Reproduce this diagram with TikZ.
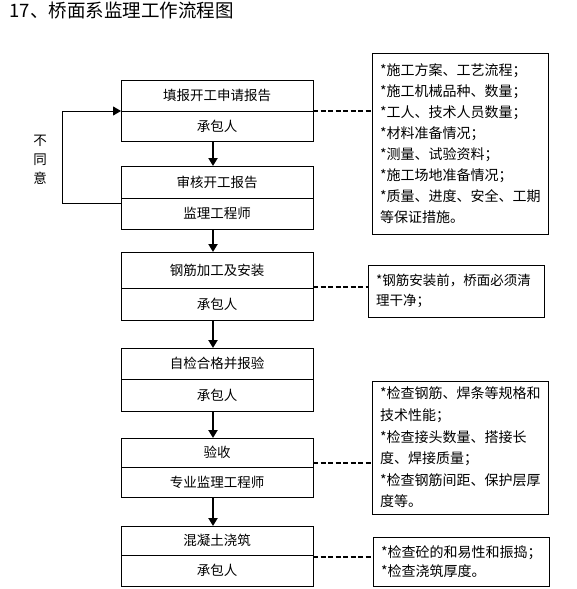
\documentclass[tikz,border=0pt]{standalone}
\usepackage{fontspec}
\setmainfont{Noto Sans CJK SC}
\usetikzlibrary{positioning, arrows.meta}
\tikzstyle{stage} = [
    rectangle, 
    minimum width=192pt, 
    minimum height=31pt,
    inner sep=0pt,
    outer sep=0pt,
    text centered, 
    draw=black, 
    line width=0.8pt,
    font=\fontsize{13.5pt}{16pt}\selectfont
]
\tikzstyle{note} = [
    rectangle, 
    anchor=north west,
    text width=160pt,
    inner xsep=8pt,
    inner ysep=3pt,
    outer sep=0pt,
    align=left, 
    draw=black, 
    line width=0.8pt,
    font=\fontsize{14pt}{21pt}\selectfont
]
\tikzstyle{arrow} = [
    line width=2pt, 
    -{Triangle[length=8pt, width=9pt]}
]
\tikzstyle{link} = [
    line width=2pt, 
    dash pattern=on 5pt off 2.5pt
]

\begin{document}
\begin{tikzpicture}[x=1pt, y=-1pt]
        \useasboundingbox (0,0) rectangle (577,589);
        \node (title) [anchor=west, font=\fontsize{18.5pt}{20pt}\selectfont] at (6,11) {17、桥面系监理工作流程图};

        \node (apply) [stage] at (217,95.5) {填报开工申请报告};
        \node (applyby) [stage, minimum height=30pt, below=0pt of apply] {承包人};
        \node (review) [stage, minimum height=32pt, below=25pt of applyby] {审核开工报告};
        \node (reviewby) [stage, below=0pt of review] {监理工程师};
        \node (rebar) [stage, minimum height=36pt, below=23pt of reviewby] {钢筋加工及安装};
        \node (rebarby) [stage, minimum height=32pt, below=0pt of rebar] {承包人};
        \node (selfcheck) [stage, below=28pt of rebarby] {自检合格并报验};
        \node (selfcheckby) [stage, minimum height=32pt, below=0pt of selfcheck] {承包人};
        \node (accept) [stage, minimum height=29pt, below=27pt of selfcheckby] {验收};
        \node (acceptby) [stage, minimum height=30pt, below=0pt of accept] {专业监理工程师};
        \node (pour) [stage, minimum height=29pt, below=29pt of acceptby] {混凝土浇筑};
        \node (pourby) [stage, below=0pt of pour] {承包人};

        \node (disagree) [align=center, font=\fontsize{13.5pt}{19pt}\selectfont] at (40,160) {不\\同\\意};

        \node (prepnote) [note, minimum height=181pt] at ([xshift=59pt, yshift=27pt]apply.north east) {*施工方案、工艺流程；\\{}*施工机械品种、数量；\\{}*工人、技术人员数量；\\{}*材料准备情况；\\{}*测量、试验资料；\\{}*施工场地准备情况；\\{}*质量、进度、安全、工期\\等保证措施。};
        \node (cleannote) [note, minimum height=52pt, font=\fontsize{13.5pt}{20pt}\selectfont] at ([xshift=55pt, yshift=-13pt]rebar.north east) {*钢筋安装前，桥面必须清\\理干净；};
        \node (checknote) [note, minimum height=133pt, font=\fontsize{14pt}{21.6pt}\selectfont] at ([xshift=59pt, yshift=57pt]accept.north east) {*检查钢筋、焊条等规格和\\技术性能；\\{}*检查接头数量、搭接长\\度、焊接质量；\\{}*检查钢筋间距、保护层厚\\度等。};
        \node (pournote) [note, minimum height=49pt, font=\fontsize{14pt}{19.5pt}\selectfont] at ([xshift=60pt, yshift=-11pt]pour.north east) {*检查砼的和易性和振捣；\\{}*检查浇筑厚度。};

        \draw[arrow] ([xshift=-4pt]applyby.south) -- ([xshift=-4pt]review.north);
        \draw[arrow] ([xshift=-4pt]reviewby.south) -- ([xshift=-4pt]rebar.north);
        \draw[arrow] ([xshift=-4pt]rebarby.south) -- ([xshift=-4pt]selfcheck.north);
        \draw[arrow] ([xshift=-4pt]selfcheckby.south) -- ([xshift=-4pt]accept.north);
        \draw[arrow] ([xshift=-4pt]acceptby.south) -- ([xshift=-4pt]pour.north);
        \draw[line width=1pt, -{Triangle[length=8pt, width=9pt]}] ([yshift=-5pt]review.south west) -- ++(-59pt,0) |- (apply.south west);

        \draw[link] (apply.south east) -- (apply.south east -| prepnote.west);
        \draw[link] ([yshift=1pt]rebar.south east) -- ([yshift=1pt]rebar.south east -| cleannote.west);
        \draw[link] ([yshift=4pt]accept.south east) -- ([yshift=4pt]accept.south east -| checknote.west);
        \draw[link] ([yshift=-2pt]pour.south east) -- ([yshift=-2pt]pour.south east -| pournote.west);
    \end{tikzpicture}
\end{document}
